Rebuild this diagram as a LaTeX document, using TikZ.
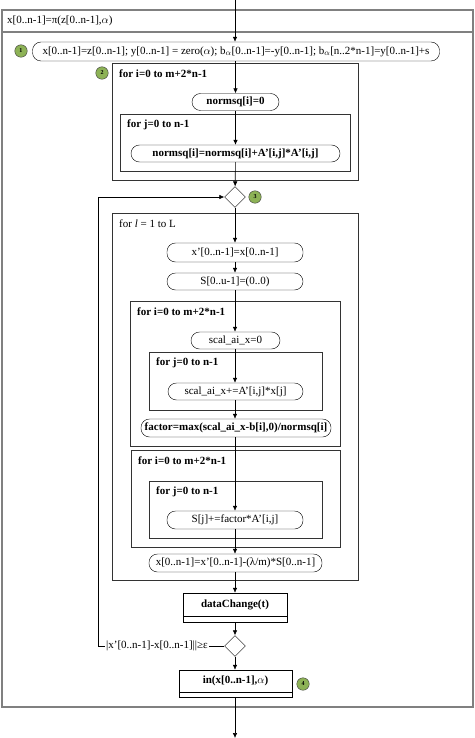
\documentclass[tikz,border=0pt]{standalone}
\usepackage{fontspec}
\setmainfont{Liberation Serif}
\usetikzlibrary{arrows.meta,shapes.geometric}

\newcommand\police{\fontsize{11}{13}\selectfont}
\definecolor{vertrepere}{RGB}{141,178,86}

\tikzset{cadre/.style = {draw=black!50, line width=1.6pt},
         boucle/.style = {draw=black!80, line width=0.8pt},
         titreboucle/.style = {anchor=west, inner sep=0pt, font=\police\bfseries},
         etape/.style = {draw, rounded corners=8.5pt, inner sep=0pt,
                         minimum width=#1, minimum height=17pt},
         etape/.default=136pt,
         action/.style = {draw, rectangle, inner sep=0pt, minimum width=#1,
                          minimum height=23pt, font=\police\bfseries},
         choix/.style = {draw, diamond, inner sep=0pt, minimum size=21pt},
         repere/.style = {circle, draw=black!75, fill=vertrepere,
                          minimum size=12.5pt, inner sep=0pt,
                          font=\fontsize{6}{7}\selectfont\bfseries},
         fleche/.style = {-{Latex[length=5pt,width=4.5pt]}, line width=0.6pt},
         trait/.style = {line width=0.6pt}
        }

\begin{document}
\begin{tikzpicture}[x=1pt, y=-1pt, every node/.style={font=\police}]
  \useasboundingbox (0,0) rectangle (474,738);
  % cadre exterieur
  \draw[cadre] (2,10) rectangle (473,707);
  \draw[cadre] (2,32) -- (473,32);
  \node[anchor=west, inner sep=0pt] (titre) at (7,21) {x[0..n-1]=π(z[0..n-1],$\alpha$)};

  % boucles for
  \foreach \nom/\xa/\ya/\xb/\yb/\txt in {bi1/112/63/358/180/for i=0 to m+2*n-1,
                                         bj1/120/114/350/171/for j=0 to n-1,
                                         bi2/130/301/340/446/for i=0 to m+2*n-1,
                                         bj2/149/352/322/410/for j=0 to n-1,
                                         bi3/131/450/340/547/for i=0 to m+2*n-1,
                                         bj3/149/481/322/538/for j=0 to n-1}
      {\draw[boucle] (\xa,\ya) rectangle (\xb,\yb);
       \node[titreboucle] (\nom) at (\xa+7,\ya+11) {\txt};};
  \draw[boucle] (112,213) rectangle (358,580);
  \node[titreboucle, font=\police] (bl) at (119,224) {for \textit{l} = 1 to L};

  % etapes
  \node[etape=407pt, minimum height=19pt] (init) at (236,51.5)
      {x[0..n-1]=z[0..n-1]; y[0..n-1] = zero($\alpha$); b$_\alpha$[0..n-1]=-y[0..n-1]; b$_\alpha$[n..2*n-1]=y[0..n-1]+s};
  \node[etape=87pt, font=\police\bfseries] (nz) at (235.5,102) {normsq[i]=0};
  \node[etape=209pt, font=\police\bfseries] (ns) at (235.5,153.5) {normsq[i]=normsq[i]+A'[i,j]*A'[i,j]};
  \node[choix] (d1) at (235,197) {};
  \node[etape, minimum height=19pt] (xp) at (235,252.5) {x'[0..n-1]=x[0..n-1]};
  \node[etape] (s0) at (235,281.5) {S[0..u-1]=(0..0)};
  \node[etape=89pt] (sc0) at (235.5,340.5) {scal\_ai\_x=0};
  \node[etape=135pt] (scs) at (235.5,391.5) {scal\_ai\_x+=A'[i,j]*x[j]};
  \node[etape=190pt, minimum height=18pt, font=\police\bfseries] (fa) at (236,428) {factor=max(scal\_ai\_x-b[i],0)/normsq[i]};
  \node[etape, minimum height=18pt] (sj) at (235,520) {S[j]+=factor*A'[i,j]};
  \node[etape=173pt, minimum height=18pt] (xn) at (235.5,563) {x[0..n-1]=x'[0..n-1]-(λ/m)*S[0..n-1]};
  \node[action=104pt] (dc) at (235,604.5) {dataChange(t)};
  \draw[trait] (dc.south west) rectangle ++(104,6);
  \node[choix] (d2) at (235,646) {};
  \node[action=113pt, minimum height=22pt] (sortie) at (235.5,681) {in(x[0..n-1],$\alpha$)};
  \draw[trait] (sortie.south west) rectangle ++(113,5);
  \node[inner sep=1.5pt] (cond) at (157,646) {|x'[0..n-1]-x[0..n-1]||≥ε};

  % reperes
  \foreach \n/\x/\y in {1/21/51, 2/102/73, 3/255/197, 4/303/684}
      {\node[repere] (r\n) at (\x,\y) {\n};};

  % liaisons
  \coordinate (haut) at (235,0);
  \coordinate (bas) at (235,738);
  \coordinate (coin) at (98,646);
  \draw[fleche] (haut) -- (haut |- init.north);
  \draw[fleche] (init.south -| nz) -- (nz);
  \draw[fleche] (nz) -- (ns);
  \draw[fleche] (ns) -- (d1);
  \draw[fleche] (d1) -- (xp);
  \draw[fleche] (xp) -- (s0);
  \draw[fleche] (s0) -- (sc0.north -| s0);
  \draw[fleche] (sc0.south -| s0) -- (scs.north -| s0);
  \draw[fleche] (scs.south -| s0) -- (fa.north -| s0);
  \draw[fleche] (fa.south -| s0) -- (sj);
  \draw[fleche] (sj) -- (xn.north -| sj);
  \draw[fleche] (xn.south -| sj) -- (dc.north -| sj);
  \draw[fleche] ([yshift=-6pt]dc.south) -- (d2);
  \draw[fleche] (d2) -- (sortie.north -| d2);
  \draw[fleche] ([yshift=-5pt]sortie.south -| d2) -- (bas);
  \draw[trait] (d2.west) -- (cond.east);
  \draw[fleche] (cond.west) -- (coin) |- (d1.west);
\end{tikzpicture}
\end{document}
